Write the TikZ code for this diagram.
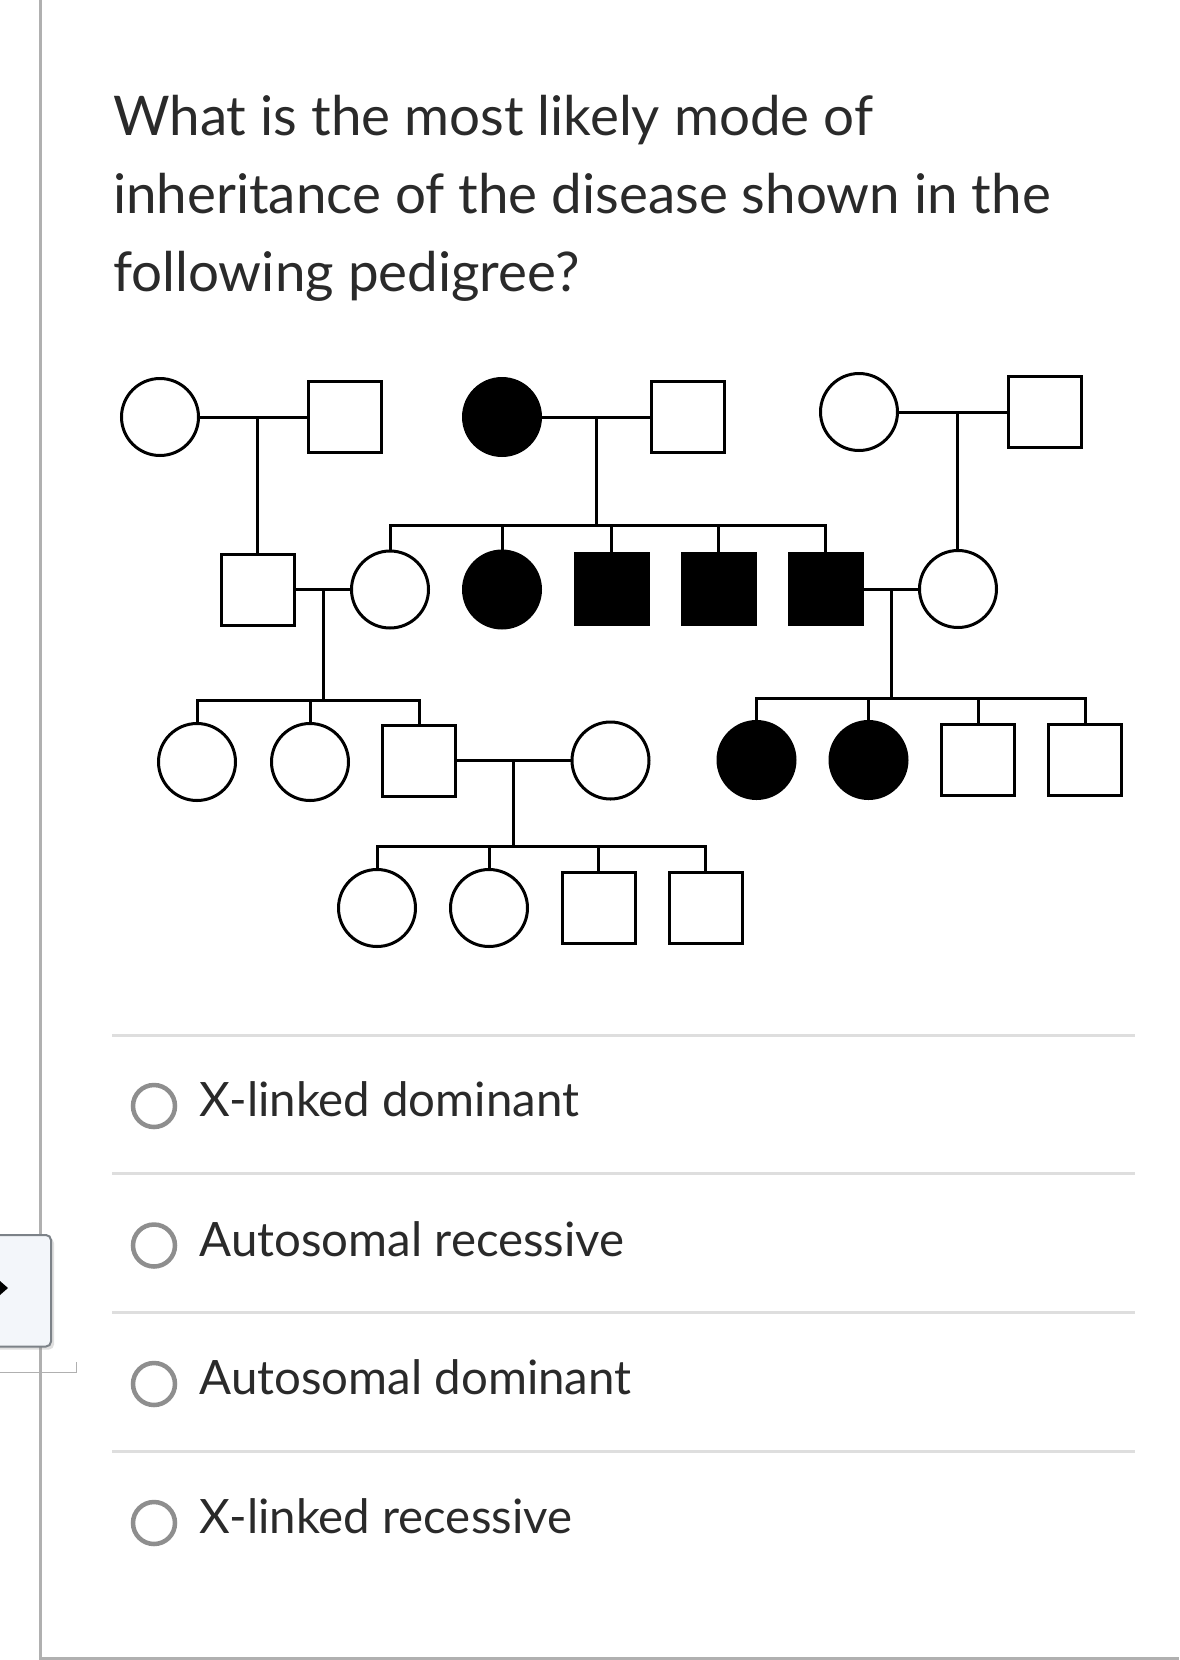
\documentclass[tikz,border=0pt]{standalone}
\usepackage{fontspec}
\setmainfont{Lato}
\usetikzlibrary{shadows}

\definecolor{textblack}{HTML}{2A2A2A}
\definecolor{radiogray}{HTML}{8E8E8E}
\definecolor{rulegray}{HTML}{DEDEDE}
\definecolor{bordergray}{HTML}{B0B0B0}
\definecolor{tabfill}{HTML}{F3F6FA}
\definecolor{tabedge}{HTML}{7C8288}

\begin{document}
\begin{tikzpicture}
	[x=1pt,y=-1pt,
	female node/.style={shape=circle,draw,line width=3pt,minimum size=77pt,inner sep=0pt,fill=white},
	male node/.style={shape=rectangle,draw,line width=3pt,minimum width=73pt,minimum height=71pt,inner sep=0pt,fill=white},
	affected/.style={fill=black},
	radio/.style={shape=circle,draw=radiogray,line width=4.5pt,minimum size=42pt,inner sep=0pt},
	question/.style={anchor=base west,inner sep=0pt,text=textblack,font=\fontsize{54.7}{78}\selectfont},
	option/.style={anchor=base west,inner sep=0pt,text=textblack,font=\fontsize{47.4}{56}\selectfont},
	rule line/.style={draw=rulegray,line width=3pt}]
	\fill[white] (0,0) rectangle (1179,1660);
	\useasboundingbox (0,0) rectangle (1179,1660);
	
	% frame and side tab
	\draw[draw=bordergray,line width=3pt] (40.5,0) -- (40.5,1658.5) -- (1179,1658.5);
	\draw[draw=bordergray,line width=1pt] (0,1372) -- (76.5,1372) -- (76.5,1362);
	\draw[rounded corners=5pt,fill=tabfill,draw=tabedge,line width=2pt,
	drop shadow={opacity=0.25,shadow xshift=3pt,shadow yshift=-3pt}] (-10,1235) rectangle (51,1346.5);
	\fill (0,1281) -- (8,1288) -- (0,1295) -- cycle;
	
	% question
	\node [question] (q1) at (113,135) {What is the most likely mode of};
	\node [question] (q2) at (113,213.3) {inheritance of the disease shown in the};
	\node [question] (q3) at (113,291.7) {following pedigree?};
	
	% generation I
	\node [female node] (1) at (160,417) {};
	\node [male node] (2) at (345,417) {};
	\node [female node,affected] (3) at (502,417) {};
	\node [male node] (4) at (688,417) {};
	\node [female node] (5) at (859,412) {};
	\node [male node] (6) at (1044.5,412) {};
	
	% generation II
	\node [male node] (7) at (258,589.5) {};
	\node [female node] (8) at (390,589.5) {};
	\node [female node,affected] (9) at (502,589.5) {};
	\node [male node,affected] (10) at (611.5,589) {};
	\node [male node,affected] (11) at (718.5,589) {};
	\node [male node,affected] (12) at (825.5,589) {};
	\node [female node] (13) at (958,589) {};
	
	% generation III
	\node [female node] (14) at (197,762) {};
	\node [female node] (15) at (310,762) {};
	\node [male node] (16) at (419,760.5) {};
	\node [female node] (17) at (610.5,760.5) {};
	\node [female node,affected] (18) at (756.5,760) {};
	\node [female node,affected] (19) at (868.5,760) {};
	\node [male node] (20) at (978,759.5) {};
	\node [male node] (21) at (1085,759.5) {};
	
	% generation IV
	\node [female node] (22) at (377,908) {};
	\node [female node] (23) at (489,908) {};
	\node [male node] (24) at (598.5,908) {};
	\node [male node] (25) at (705.5,908) {};
	
	\coordinate (m1) at (257,417);
	\coordinate (m2) at (596,417);
	\coordinate (m3) at (957,412);
	\coordinate (m4) at (323,589.5);
	\coordinate (m5) at (891,589);
	\coordinate (m6) at (513,760.5);
	\coordinate (s2) at (596,525);
	\coordinate (s4) at (323,700);
	\coordinate (s5) at (891,698);
	\coordinate (s6) at (513,846.5);
	
	\path[draw,line width=3pt]
	(1) edge (2)
	(3) edge (4)
	(5) edge (6)
	(7) edge (8)
	(12) edge (13)
	(16) edge (17)
	;
	
	\begin{scope}[line width=3pt]
		\draw (m1) -- (m1 |- 7.north);
		\draw (m3) -- (m3 |- 13.north);
		\draw (m2) -- (s2);
		\draw (8.north) |- (s2) -| (12.north);
		\foreach \c in {9,10,11}
		\draw (\c.north) -- (\c.north |- s2);
		\draw (m4) -- (s4);
		\draw (14.north) |- (s4) -| (16.north);
		\draw (15.north) -- (15.north |- s4);
		\draw (m5) -- (s5);
		\draw (18.north) |- (s5) -| (21.north);
		\foreach \c in {19,20}
		\draw (\c.north) -- (\c.north |- s5);
		\draw (m6) -- (s6);
		\draw (22.north) |- (s6) -| (25.north);
		\foreach \c in {23,24}
		\draw (\c.north) -- (\c.north |- s6);
	\end{scope}
	
	% answers
	\foreach \y in {1035,1173.5,1312.5,1451.5}
	\draw[rule line] (112,\y) -- (1135,\y);
	\foreach \y/\txt [count=\i] in {1106/X-linked dominant,1245.5/Autosomal recessive,1384/Autosomal dominant,1523/X-linked recessive}
	{
		\node [radio] (r\i) at (154,\y) {};
		\node [option] (o\i) at (199.5,\y+10.5) {\txt};
	}
\end{tikzpicture}
\end{document}
